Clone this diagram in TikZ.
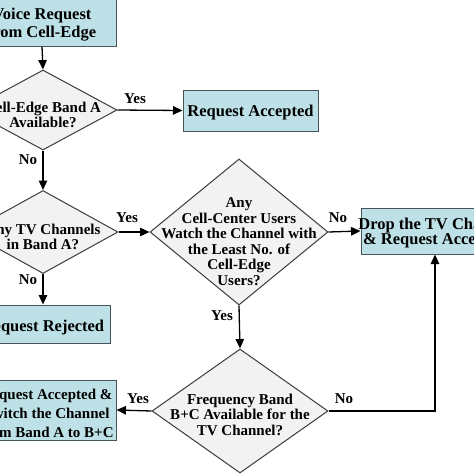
\documentclass[tikz,border=0pt]{standalone}
\usepackage{fontspec}
\setmainfont{Liberation Serif}
\usetikzlibrary{shapes.geometric,arrows.meta}
\definecolor{boxfill}{RGB}{190,225,231}
\definecolor{boxline}{RGB}{70,85,90}
\definecolor{dfill}{RGB}{242,242,242}
\definecolor{dline}{RGB}{60,60,60}
\begin{document}
\begin{tikzpicture}[x=1pt,y=-1pt,
 box/.style={draw=boxline,fill=boxfill,line width=1pt,inner sep=0pt},
 btext/.style={align=center,inner sep=0pt,font=\fontsize{16.5}{18}\selectfont\bfseries},
 dia/.style={diamond,draw=dline,fill=dfill,line width=1pt,inner sep=0pt},
 dtext/.style={align=center,inner sep=0pt,font=\fontsize{15}{15.5}\selectfont\bfseries},
 lbl/.style={inner sep=0pt,font=\fontsize{15}{15}\selectfont\bfseries},
 arr/.style={line width=1.3pt,-{Triangle[length=9.5pt,width=8.5pt]}}]
\useasboundingbox (0,0) rectangle (474,474);
\clip (0,0) rectangle (474,474);
\fill[white] (0,0) rectangle (474,474);

% boxes
\node[box,minimum width=148pt,minimum height=48pt] (start) at (42,22) {};
\node[btext] (startt) at (42,25) {Voice Request\\from Cell-Edge};
\node[box,minimum width=135pt,minimum height=41pt] (acc) at (250.5,110.5) {};
\node[btext] (acct) at (250.5,113) {Request Accepted};
\node[box,minimum width=134pt,minimum height=38pt] (rej) at (43,324) {};
\node[btext] (rejt) at (43,327.5) {Request Rejected};
\node[box,minimum width=148pt,minimum height=46pt] (drop) at (435,231) {};
\node[btext,font=\fontsize{16.5}{15}\selectfont\bfseries] (dropt) at (435,233) {Drop the TV Channel\\\& Request Accepted};
\node[box,minimum width=150pt,minimum height=60pt] (switch) at (41,410) {};
\node[btext,font=\fontsize{15}{19}\selectfont\bfseries] (switcht) at (47,413) {Request Accepted \&\\Switch the Channel\\from Band A to B+C};

% diamonds
\node[dia,minimum width=148pt,minimum height=80pt] (d1) at (43,110) {};
\node[dtext] (d1t) at (43,115) {Cell-Edge Band A\\Available?};
\node[dia,minimum width=150pt,minimum height=83pt] (d2) at (43,232) {};
\node[dtext] (d2t) at (43,237) {Any TV Channels\\in Band A?};
\node[dia,minimum width=178pt,minimum height=146pt] (d3) at (239,232) {};
\node[dtext] (d3t) at (239,241.5) {Any\\Cell-Center Users\\Watch the Channel with\\the Least No. of\\Cell-Edge\\Users?};
\node[dia,minimum width=176pt,minimum height=124pt] (d4) at (240,411) {};
\node[dtext] (d4t) at (240,414.5) {Frequency Band\\B+C Available for the\\TV Channel?};

% connectors
\draw[arr] (start.south) -- (d1.north);
\draw[arr] (d1.east) -- (acc.west);
\draw[arr] (d1.south) -- (d2.north);
\draw[arr] (d2.east) -- (d3.west);
\draw[arr] (d2.south) -- (rej.north);
\draw[arr] (d3.east) -- (drop.west);
\draw[arr] (d3.south) -- (d4.north);
\draw[arr] (d4.west) -- (switch.east);
\draw[arr] (d4.east) -| (drop.south);

% labels
\node[lbl] (l1) at (135,99) {Yes};
\node[lbl] (l2) at (28,160) {No};
\node[lbl] (l3) at (127,218) {Yes};
\node[lbl] (l4) at (28,280) {No};
\node[lbl] (l5) at (338,218) {No};
\node[lbl] (l6) at (222,316) {Yes};
\node[lbl] (l7) at (138,399) {Yes};
\node[lbl] (l8) at (344,399) {No};
\end{tikzpicture}
\end{document}
